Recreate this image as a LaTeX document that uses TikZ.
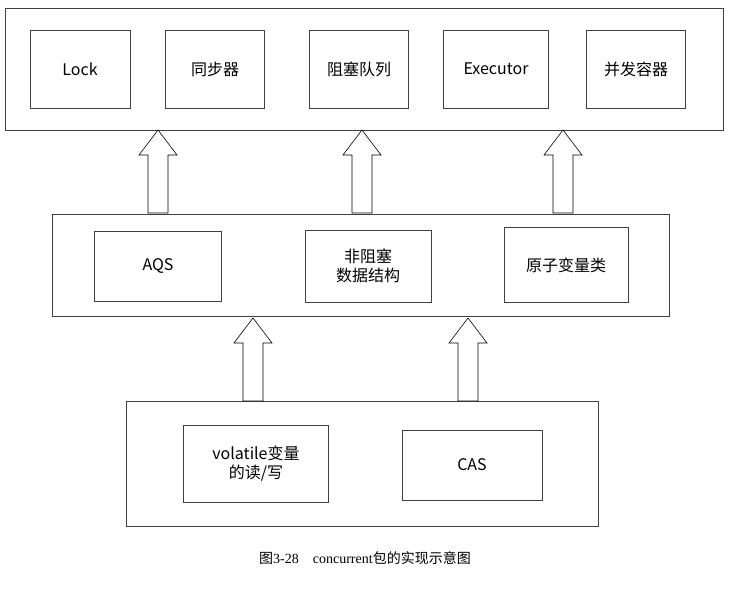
\documentclass[tikz,border=0pt]{standalone}
\usepackage{fontspec}
\setmainfont{Liberation Sans}
\newfontfamily\cjk{Noto Sans CJK SC}
\newfontfamily\capfont{Liberation Serif}
\begin{document}
\begin{tikzpicture}[x=1pt,y=-1pt,
  box/.style={draw=black!75,line width=0.6pt,inner sep=0pt},
  lbl/.style={font=\fontsize{16}{19}\selectfont\cjk,align=center},
  barrow/.pic={\draw[line width=0.6pt,fill=white] (-10,0) -- (-10,-58) -- (-19,-58) -- (0,-83) -- (19,-58) -- (10,-58) -- (10,0) -- cycle;}]
\useasboundingbox (0,0) rectangle (730,604);
% top layer
\node[box,minimum width=718pt,minimum height=122pt] (top) at (364,69) {};
\node[box,minimum width=100pt,minimum height=78pt,lbl] (lock) at (80,69) {Lock};
\node[box,minimum width=99pt,minimum height=78pt,lbl] (sync) at (215,69) {同步器};
\node[box,minimum width=99pt,minimum height=78pt,lbl] (bq) at (359,69) {阻塞队列};
\node[box,minimum width=105pt,minimum height=78pt,lbl] (exec) at (496,69) {Executor};
\node[box,minimum width=99pt,minimum height=78pt,lbl] (cc) at (636,69) {并发容器};
% middle layer
\node[box,minimum width=617pt,minimum height=102pt] (mid) at (361,265) {};
\node[box,minimum width=127pt,minimum height=70pt,lbl] (aqs) at (158,266) {AQS};
\node[box,minimum width=126pt,minimum height=72pt,lbl] (nb) at (368,266) {非阻塞\\数据结构};
\node[box,minimum width=124pt,minimum height=75pt,lbl] (atom) at (566,265) {原子变量类};
% bottom layer
\node[box,minimum width=472pt,minimum height=125pt] (bot) at (362,464) {};
\node[box,minimum width=145pt,minimum height=77pt,lbl] (vol) at (256,464) {volatile变量\\的读/写};
\node[box,minimum width=140pt,minimum height=70pt,lbl] (cas) at (472,465) {CAS};
% block arrows
\pic at (158,213) {barrow};
\pic at (362,213) {barrow};
\pic at (563,213) {barrow};
\pic at (253,401) {barrow};
\pic at (468,401) {barrow};
% caption
\node[font=\fontsize{14}{16}\selectfont\capfont] (cap) at (365,558) {{\cjk 图}3-28\quad concurrent{\cjk 包的实现示意图}};
\end{tikzpicture}
\end{document}
